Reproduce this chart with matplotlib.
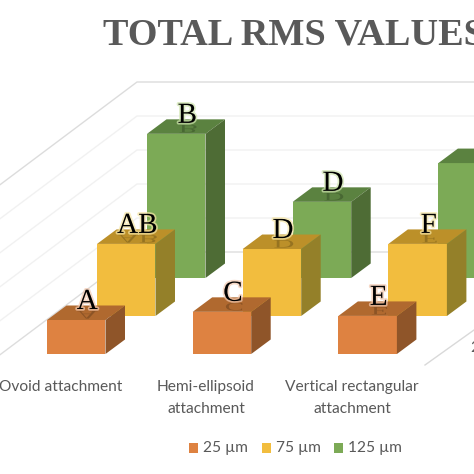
import matplotlib
matplotlib.use("Agg")
import matplotlib.pyplot as plt
import matplotlib.patheffects as pe
from matplotlib.font_manager import FontProperties
from matplotlib.patches import PathPatch, Polygon, Rectangle
from matplotlib.textpath import TextPath
from matplotlib.transforms import Affine2D

# values in gridline units, the picture has no readable scale
categories = ["Ovoid attachment", "Hemi-ellipsoid\nattachment", "Vertical rectangular\nattachment"]
series = ["25 µm", "75 µm", "125 µm"]
vals_25 = [1.00, 1.24, 1.12]
vals_75 = [2.12, 1.97, 2.12]
vals_125 = [4.24, 2.24, 3.38]
letters_25 = ["A", "C", "E"]
letters_75 = ["AB", "D", "F"]
letters_125 = ["B", "D", ""]
grid_lines = [0, 1, 2, 3, 4, 5]

# projection of the fake 3d chart, in pixels
UNIT = 34.0
BAR_W = 58.5
DEPTH_X = 19.5
DEPTH_Y = 14.5
FIRST_X = 47
CAT_STEP = 145.7
SERIES_DX = 50
SERIES_DY = -38
FRONT_Y = 354
BACK_X = 137
BACK_Y = 252

front_cols = ["#DE8241", "#F2BD3E", "#7CAA56"]
top_cols = ["#B0692F", "#BC9029", "#5B8240"]
side_cols = ["#8F5529", "#948029", "#4E6C35"]
glow_cols = ["#F3C9B0", "#F6E6A6", "#CFE5AE"]
serif = FontProperties(family="Liberation Serif")

fig = plt.figure(figsize=(4.74, 4.74), dpi=100, facecolor="white")
ax = fig.add_axes([0, 0, 1, 1])
ax.set_xlim(0, 474)
ax.set_ylim(474, 0)
ax.axis("off")

# walls
for g in grid_lines:
    y = BACK_Y - g * UNIT
    col = "#DCDCDC" if g == 5 else "#F1F1F1"
    if g == 0:
        col = "#DDDDDD"
    ax.plot([0, BACK_X, 474], [y + BACK_X * 0.75, y, y], color=col, lw=1.0, zorder=1)
ax.plot([425, 474], [365, 330], color="#D9D9D9", lw=1.0, zorder=1)


def draw_bar(x, y0, h, k):
    top = y0 - h * UNIT
    x1 = x + BAR_W
    ax.add_patch(Rectangle((x, top), BAR_W, y0 - top, fc=front_cols[k], ec="none", zorder=3))
    face = Polygon([(x, top), (x1, top), (x1 + DEPTH_X, top - DEPTH_Y), (x + DEPTH_X, top - DEPTH_Y)],
                   fc=top_cols[k], ec="none", zorder=3)
    ax.add_patch(face)
    ax.add_patch(Polygon([(x1, top), (x1 + DEPTH_X, top - DEPTH_Y), (x1 + DEPTH_X, y0 - DEPTH_Y), (x1, y0)],
                         fc=side_cols[k], ec="none", zorder=3))
    return top, face


def draw_letter(s, cx, cy, k, face):
    ax.text(cx, cy, s, family="Liberation Serif", fontsize=21, color="black", ha="center", va="center",
            zorder=5, path_effects=[pe.withStroke(linewidth=2.5, foreground=glow_cols[k], alpha=0.7)])
    # reflection on the top face, the inverted y axis mirrors the glyphs
    tp = TextPath((0, 0), s, size=29, prop=serif)
    w = tp.get_extents().width
    patch = PathPatch(tp, fc="black", ec="none", alpha=0.2, zorder=4,
                      transform=Affine2D().scale(1, 0.4).translate(cx - w / 2, cy + 9) + ax.transData)
    ax.add_patch(patch)
    patch.set_clip_path(face)


all_vals = [vals_25, vals_75, vals_125]
all_letters = [letters_25, letters_75, letters_125]
# back row first so the front row covers it
for k in [2, 1, 0]:
    for i in range(len(categories)):
        x = FIRST_X + i * CAT_STEP + k * SERIES_DX
        y0 = FRONT_Y + k * SERIES_DY
        top, face = draw_bar(x, y0, all_vals[k][i], k)
        if all_letters[k][i]:
            draw_letter(all_letters[k][i], x + BAR_W / 2 + 11, top - 18, k, face)

ax.text(103, 35, "TOTAL RMS VALUES", family="Liberation Serif", weight="bold", fontsize=27.5,
        color="#595959", ha="left", va="center", clip_on=True)

label_x = [61, 206, 352]
for lab, lx in zip(categories, label_x):
    ax.text(lx, 387 if "\n" not in lab else 398, lab, family="Lato", fontsize=11.2, color="#595959",
            ha="center", va="center", linespacing=1.75)
ax.text(470, 348, "2", family="Lato", fontsize=11.2, color="#595959", ha="left", va="center")

# legend
leg_x = [189, 262, 334]
for k, lx in enumerate(leg_x):
    ax.add_patch(Rectangle((lx, 443), 9.5, 10, fc=front_cols[k], ec="none"))
    ax.text(lx + 14, 448, series[k], family="Lato", fontsize=11.2, color="#595959", ha="left", va="center")

fig.savefig("out.png", dpi=100)
